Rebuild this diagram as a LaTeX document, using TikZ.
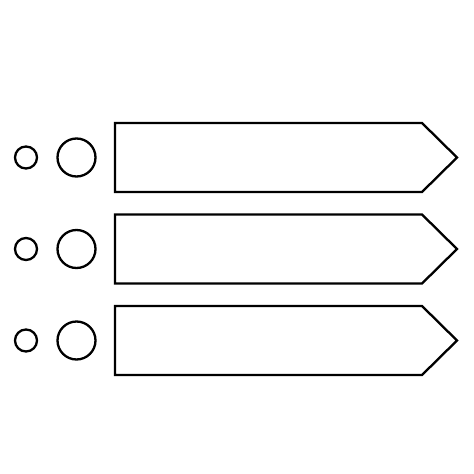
\documentclass[tikz,border=0pt]{standalone}
\begin{document}
\begin{tikzpicture}[x=1pt,y=-1pt,
  outline/.style={draw=black,line width=2.3pt,line join=miter},
  smalldot/.style={outline,circle,minimum size=22pt,inner sep=0pt},
  bigdot/.style={outline,circle,minimum size=38pt,inner sep=0pt}]
\useasboundingbox[fill=white] (0,0) rectangle (474,474);
\foreach \i/\yc in {1/157.5,2/249,3/340.5}{
  \node[smalldot] (s\i) at (26,\yc) {};
  \node[bigdot] (b\i) at (76.5,\yc) {};
  \draw[outline] (115,\yc-34.5) -- (422,\yc-34.5) -- (457,\yc) -- (422,\yc+34.5) -- (115,\yc+34.5) -- cycle;
}
\end{tikzpicture}
\end{document}
